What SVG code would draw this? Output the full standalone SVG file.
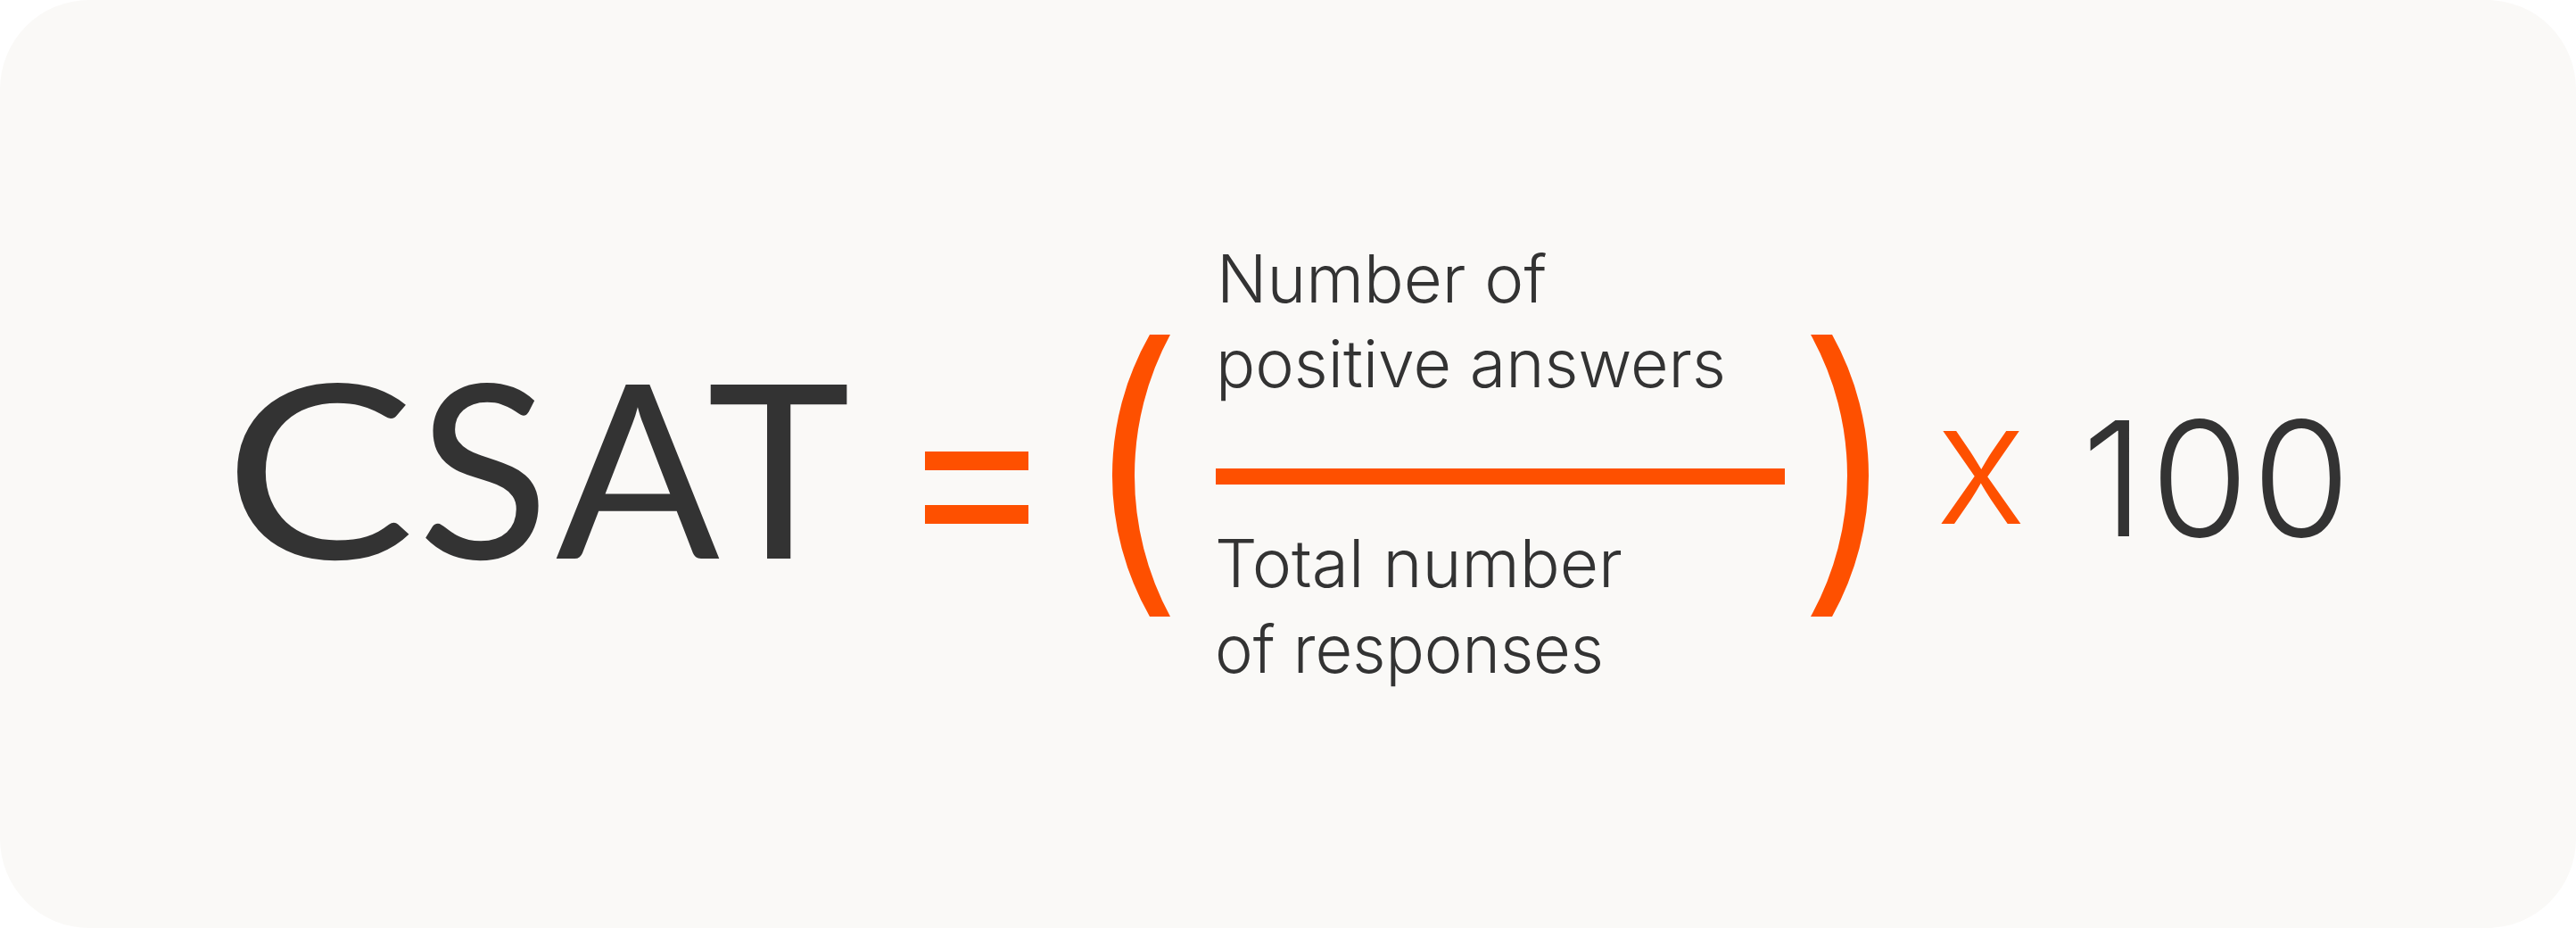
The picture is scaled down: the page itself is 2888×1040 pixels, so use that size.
<svg xmlns="http://www.w3.org/2000/svg" width="2888" height="1040" viewBox="0 0 2888 1040">
  <style>
    .ink { fill: #333333; }
    .accent { fill: #FE5000; }
    .big { font-family: Lato, "Liberation Sans", sans-serif; font-size: 272px; }
    .label { font-family: Inter, "Liberation Sans", sans-serif; font-size: 74px; font-weight: 300; }
    .num { font-family: Inter, "Liberation Sans", sans-serif; font-size: 179px; font-weight: 300; }
  </style>
  <rect x="0" y="0" width="2888" height="1040" fill="#FFFFFF"/>
  <rect id="background" x="0" y="0" width="2888" height="1040" rx="100" ry="100" fill="#FAF9F7"/>
  <g id="csat">
    <text class="big ink" x="358" y="626" text-anchor="middle" transform="translate(358,0) scale(1.18,1) translate(-358,0)">C</text>
    <text class="big ink" x="542 715 873" y="626" text-anchor="middle">SAT</text>
  </g>
  <g id="equals" class="accent">
    <rect x="1037" y="506" width="116" height="21"/>
    <rect x="1037" y="566" width="116" height="21"/>
  </g>
  <g id="left-paren" class="accent">
    <path d="M1289,375 L1312,375 A332,332 0 0 0 1312,691 L1289,691 A318,318 0 0 1 1289,375 Z"/>
  </g>
  <g id="numerator">
    <text class="label ink" x="1364" y="339" textLength="370" lengthAdjust="spacingAndGlyphs">Number of</text>
    <text class="label ink" x="1363" y="434" textLength="572" lengthAdjust="spacingAndGlyphs">positive answers</text>
  </g>
  <g id="fraction-bar" class="accent">
    <rect x="1363" y="525" width="638" height="18"/>
  </g>
  <g id="denominator">
    <text class="label ink" x="1362" y="658" textLength="457" lengthAdjust="spacingAndGlyphs">Total number</text>
    <text class="label ink" x="1362" y="754" textLength="436" lengthAdjust="spacingAndGlyphs">of responses</text>
  </g>
  <g id="right-paren" class="accent">
    <path d="M2030,375 L2054,375 A325,325 0 0 1 2054,691 L2030,691 A325,325 0 0 0 2030,375 Z"/>
  </g>
  <g id="multiplier">
    <text class="num accent" x="2221" y="587" text-anchor="middle" style="font-size:190px">x</text>
    <text class="num ink" x="2369 2466 2580" y="601" text-anchor="middle">100</text>
  </g>
  <g id="connectors"></g>
</svg>
